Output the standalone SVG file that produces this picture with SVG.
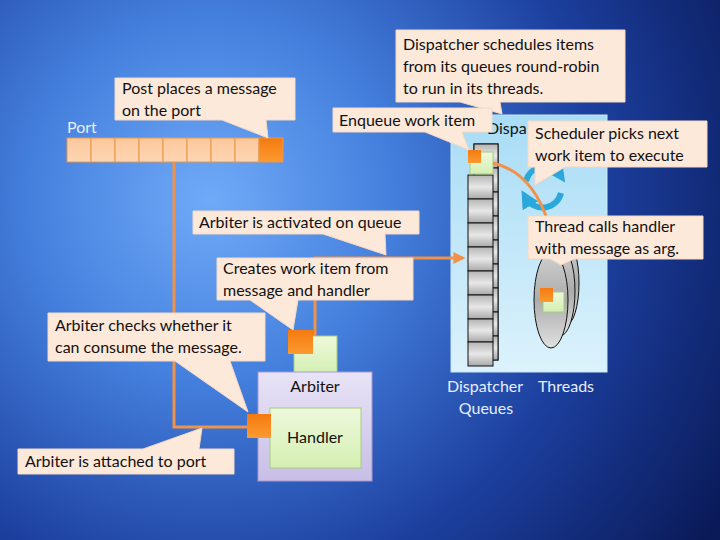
<svg xmlns="http://www.w3.org/2000/svg" width="720" height="540" viewBox="0 0 720 540">
<defs>
  <radialGradient id="bg" cx="210" cy="200" r="600" gradientUnits="userSpaceOnUse">
    <stop offset="0" stop-color="#6faaf8"/>
    <stop offset="0.3" stop-color="#4580de"/>
    <stop offset="0.65" stop-color="#1c3f9e"/>
    <stop offset="1" stop-color="#0a1a58"/>
  </radialGradient>
  <linearGradient id="cell" x1="0" y1="0" x2="0" y2="1">
    <stop offset="0" stop-color="#b4b4b4"/>
    <stop offset="0.5" stop-color="#e8e8e8"/>
    <stop offset="1" stop-color="#a8a8a8"/>
  </linearGradient>
  <linearGradient id="portcell" x1="0" y1="0" x2="0" y2="1">
    <stop offset="0" stop-color="#fcc89c"/>
    <stop offset="1" stop-color="#fcd6b4"/>
  </linearGradient>
  <linearGradient id="orange" x1="0" y1="0" x2="0" y2="1">
    <stop offset="0" stop-color="#f47a10"/>
    <stop offset="1" stop-color="#fc9a30"/>
  </linearGradient>
  <linearGradient id="green" x1="0" y1="0" x2="0" y2="1">
    <stop offset="0" stop-color="#eef9dc"/>
    <stop offset="1" stop-color="#d4efb2"/>
  </linearGradient>
  <linearGradient id="purple" x1="0" y1="0" x2="0" y2="1">
    <stop offset="0" stop-color="#e8e4f6"/>
    <stop offset="1" stop-color="#c8bee6"/>
  </linearGradient>
  <linearGradient id="disp" x1="0" y1="0" x2="0" y2="1">
    <stop offset="0" stop-color="#a8dcf6"/>
    <stop offset="1" stop-color="#dcf2fc"/>
  </linearGradient>
  <linearGradient id="thread" x1="0" y1="0" x2="0" y2="1">
    <stop offset="0" stop-color="#d0d0d0"/>
    <stop offset="0.5" stop-color="#acacac"/>
    <stop offset="1" stop-color="#e0e0e0"/>
  </linearGradient>
  <marker id="arr" viewBox="0 0 10 10" refX="8" refY="5" markerWidth="4" markerHeight="4" orient="auto">
    <path d="M0,0 L10,5 L0,10 Z" fill="#f0924a"/>
  </marker>
  <marker id="barr" viewBox="0 0 10 10" refX="5" refY="5" markerWidth="3" markerHeight="3" orient="auto">
    <path d="M0,0 L10,5 L0,10 Z" fill="#2aa8dc"/>
  </marker>
</defs>
<style>
  text { font-family: Lato, "Open Sans", sans-serif; font-size: 16px; }
  .co { fill: #fde9da; stroke: #f4d8c4; stroke-width: 1; }
  .ct { fill: #111; }
  .lbl { fill: #e6eeff; }
  .wire { fill: none; stroke: #f0924a; stroke-width: 3; }
  .gcell { fill: url(#cell); stroke: #111; stroke-width: 1; }
  .pcell { fill: url(#portcell); stroke: #e8964c; stroke-width: 1; }
  .sq { fill: url(#orange); }
  .gr { fill: url(#green); stroke: #a8cc80; stroke-width: 1; }
</style>
<rect width="720" height="540" fill="url(#bg)"/>

<g id="port">
  <text class="lbl" x="67" y="133">Port</text>
  <rect class="pcell" x="67" y="138" width="24" height="24"/>
  <rect class="pcell" x="91" y="138" width="24" height="24"/>
  <rect class="pcell" x="115" y="138" width="24" height="24"/>
  <rect class="pcell" x="139" y="138" width="24" height="24"/>
  <rect class="pcell" x="163" y="138" width="24" height="24"/>
  <rect class="pcell" x="187" y="138" width="24" height="24"/>
  <rect class="pcell" x="211" y="138" width="24" height="24"/>
  <rect class="pcell" x="235" y="138" width="24" height="24"/>
  <rect class="sq" x="259" y="138" width="24" height="24" stroke="#e8964c"/>
</g>

<g id="dispatcher">
  <rect x="451" y="115" width="156" height="257" fill="url(#disp)" stroke="#c8e8f8"/>
  <text class="ct" x="487" y="134">Dispa</text>
  <rect class="gcell" x="474" y="144" width="24" height="216"/>
  <rect class="gcell" x="474" y="144" width="24" height="24"/>
  <rect class="gcell" x="474" y="168" width="24" height="24"/>
  <rect class="gcell" x="474" y="192" width="24" height="24"/>
  <rect class="gcell" x="474" y="216" width="24" height="24"/>
  <rect class="gcell" x="474" y="240" width="24" height="24"/>
  <rect class="gcell" x="474" y="264" width="24" height="24"/>
  <rect class="gcell" x="474" y="288" width="24" height="24"/>
  <rect class="gcell" x="474" y="312" width="24" height="24"/>
  <rect class="gcell" x="474" y="336" width="24" height="24"/>
  <rect class="gcell" x="468" y="175" width="25" height="24"/>
  <rect class="gcell" x="468" y="199" width="25" height="24"/>
  <rect class="gcell" x="468" y="223" width="25" height="24"/>
  <rect class="gcell" x="468" y="247" width="25" height="24"/>
  <rect class="gcell" x="468" y="271" width="25" height="24"/>
  <rect class="gcell" x="468" y="295" width="25" height="24"/>
  <rect class="gcell" x="468" y="319" width="25" height="23"/>
  <rect class="gcell" x="468" y="342" width="25" height="24"/>
  <rect class="gr" x="470" y="152" width="23" height="22"/>
  <rect class="sq" x="468" y="150" width="13" height="13"/>
  <path d="M526,181 A19,19 0 0 1 560,175" fill="none" stroke="#2aa8dc" stroke-width="6" marker-end="url(#barr)"/>
  <path d="M561,193 A19,19 0 0 1 526,198" fill="none" stroke="#2aa8dc" stroke-width="6" marker-end="url(#barr)"/>
</g>

<g id="threads">
  <ellipse cx="566" cy="283" rx="13" ry="42" fill="url(#thread)" stroke="#111"/>
  <ellipse cx="560" cy="291" rx="15" ry="45" fill="url(#thread)" stroke="#111"/>
  <ellipse cx="551" cy="300" rx="17" ry="48" fill="url(#thread)" stroke="#111"/>
  <rect class="gr" x="543" y="292" width="21" height="20"/>
  <rect class="sq" x="540" y="288" width="13" height="14"/>
</g>

<g id="arbiter">
  <rect class="gr" x="294" y="336" width="43" height="37"/>
  <rect x="258" y="372" width="114" height="109" fill="url(#purple)" stroke="#a898d0"/>
  <text class="ct" x="315" y="392" text-anchor="middle">Arbiter</text>
  <rect class="gr" x="270" y="408" width="91" height="60"/>
  <text class="ct" x="315" y="443" text-anchor="middle">Handler</text>
</g>

<g id="connectors">
  <path class="wire" d="M174,162 V427 H250"/>
  <path class="wire" d="M315,336 V258 H463" marker-end="url(#arr)"/>
  <path class="wire" d="M493,163 Q532,172 548,222"/>
</g>

<g id="work-items">
  <rect class="sq" x="288" y="330" width="25" height="24"/>
  <rect class="sq" x="247" y="414" width="24" height="24"/>
</g>

<g id="labels">
  <text class="lbl" x="447" y="392">Dispatcher</text>
  <text class="lbl" x="486" y="414" text-anchor="middle">Queues</text>
  <text class="lbl" x="538" y="392">Threads</text>
</g>

<g id="callout-post">
  <path class="co" d="M115,78 H295 V120 H266 L268,138 L222,120 H115 Z"/>
  <text class="ct" x="122" y="94">Post places a message</text>
  <text class="ct" x="122" y="116">on the port</text>
</g>

<g id="callout-dispatcher">
  <path class="co" d="M396,30 H625 V102 H500 L502,114 L460,102 H396 Z"/>
  <text class="ct" x="403" y="50">Dispatcher schedules items</text>
  <text class="ct" x="403" y="72">from its queues round-robin</text>
  <text class="ct" x="403" y="94">to run in its threads.</text>
</g>

<g id="callout-enqueue">
  <path class="co" d="M333,108 H492 V132 H462 L469,150 L425,132 H333 Z"/>
  <text class="ct" x="339" y="126">Enqueue work item</text>
</g>

<g id="callout-scheduler">
  <path class="co" d="M528,121 H707 V167 H565 L535,185 L535,167 H528 Z"/>
  <text class="ct" x="535" y="139">Scheduler picks next</text>
  <text class="ct" x="535" y="161">work item to execute</text>
</g>

<g id="callout-activated">
  <path class="co" d="M193,211 H419 V234 H385 L386,255 L323,234 H193 Z"/>
  <text class="ct" x="199" y="228">Arbiter is activated on queue</text>
</g>

<g id="callout-thread">
  <path class="co" d="M528,216 H703 V259 H574 L561,265 L550,259 H528 Z"/>
  <text class="ct" x="535" y="232">Thread calls handler</text>
  <text class="ct" x="535" y="254">with message as arg.</text>
</g>

<g id="callout-creates">
  <path class="co" d="M217,258 H413 V300 H298 L293,330 L250,300 H217 Z"/>
  <text class="ct" x="223" y="274">Creates work item from</text>
  <text class="ct" x="223" y="296">message and handler</text>
</g>

<g id="callout-checks">
  <path class="co" d="M48,313 H265 V361 H230 L248,412 L175,361 H48 Z"/>
  <text class="ct" x="55" y="331">Arbiter checks whether it</text>
  <text class="ct" x="55" y="353">can consume the message.</text>
</g>

<g id="callout-attached">
  <path class="co" d="M18,449 H143 L202,428 L199,449 H234 V474 H18 Z"/>
  <text class="ct" x="25" y="467">Arbiter is attached to port</text>
</g>
</svg>
